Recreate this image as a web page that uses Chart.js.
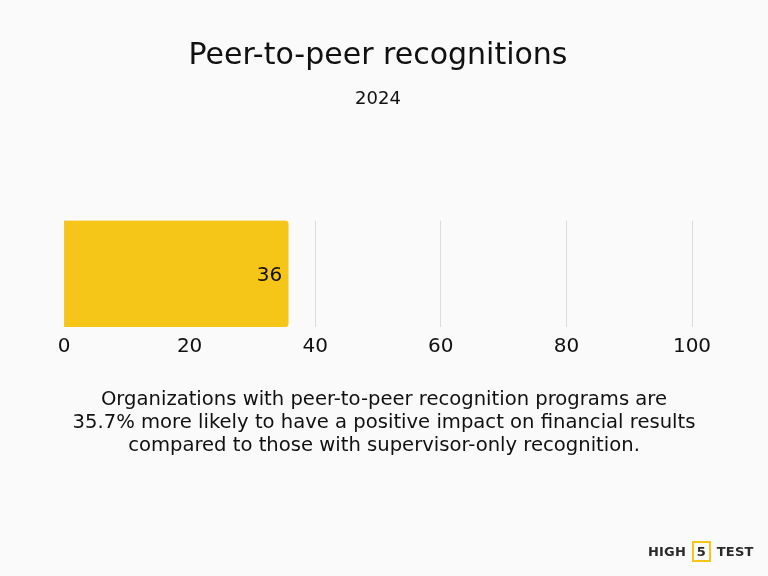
<!DOCTYPE html>
<html>
<head>
<meta charset="utf-8">
<script src="https://cdn.jsdelivr.net/npm/chart.js@4.4.1/dist/chart.umd.min.js"></script>
<style>
  html, body { margin: 0; padding: 0; background: #fafafa; }
  #wrap { position: relative; width: 768px; height: 576px; font-family: "DejaVu Sans", sans-serif; }
  #wrap canvas { position: absolute; left: 0; top: 0; }
  #note {
    position: absolute; left: 0; top: 387px; width: 768px;
    text-align: center; font-size: 19.6px; line-height: 23px; color: #111;
  }
  #logo {
    position: absolute; left: 648px; top: 541px; white-space: nowrap;
    font-weight: 700; font-size: 13px; color: #2a2a2a; letter-spacing: 0.2px;
  }
  #logo span.five {
    display: inline-block; border: 2px solid #f5c518; padding: 1px 3px; line-height: 15px; margin: 0 1px;
  }
</style>
</head>
<body>
<div id="wrap">
  <canvas id="chart" width="768" height="576"></canvas>
  <div id="note">Organizations with peer-to-peer recognition programs are<br>35.7% more likely to have a positive impact on financial results<br>compared to those with supervisor-only recognition.</div>
  <div id="logo">HIGH <span class="five">5</span> TEST</div>
</div>
<script>
/* ---- data ---- */
const categories = ["Peer-to-peer recognitions"];
const values = [35.7];
const xTicks = [0, 20, 40, 60, 80, 100];

const FONT = "'DejaVu Sans', sans-serif";

/* value label drawn at the inner end of the bar */
const barLabels = {
  id: "barLabels",
  afterDatasetsDraw(chart) {
    const c = chart.ctx;
    const meta = chart.getDatasetMeta(0);
    c.save();
    c.font = "20px " + FONT;
    c.fillStyle = "#111";
    c.textAlign = "right";
    c.textBaseline = "middle";
    meta.data.forEach((bar, i) => {
      c.fillText(String(Math.round(values[i])), bar.x - 6, bar.y + 2);
    });
    c.restore();
  }
};

new Chart(document.getElementById("chart"), {
  type: "bar",
  data: {
    labels: categories,
    datasets: [{
      data: values,
      backgroundColor: "#f5c518",
      borderRadius: 4,
      borderSkipped: "start",
      barPercentage: 1,
      categoryPercentage: 1
    }]
  },
  options: {
    indexAxis: "y",
    responsive: false,
    animation: false,
    layout: { padding: { left: 64, right: 76, top: 0, bottom: 209 } },
    plugins: {
      legend: { display: false },
      tooltip: { enabled: false },
      title: {
        display: true,
        text: "Peer-to-peer recognitions",
        color: "#111",
        font: { family: FONT, size: 30, weight: "normal", lineHeight: 1.2 },
        padding: { top: 38, bottom: 15 }
      },
      subtitle: {
        display: true,
        text: "2024",
        color: "#111",
        font: { family: FONT, size: 18, lineHeight: 1.2 },
        padding: { top: 0, bottom: 110 }
      }
    },
    scales: {
      x: {
        min: 0,
        max: 100,
        afterBuildTicks(axis) { axis.ticks = xTicks.map(v => ({ value: v })); },
        border: { display: false },
        grid: { color: "#dcdcdc", drawTicks: false },
        ticks: { color: "#111", padding: 8, font: { family: FONT, size: 20 } }
      },
      y: {
        display: false
      }
    }
  },
  plugins: [barLabels]
});
</script>
</body>
</html>
